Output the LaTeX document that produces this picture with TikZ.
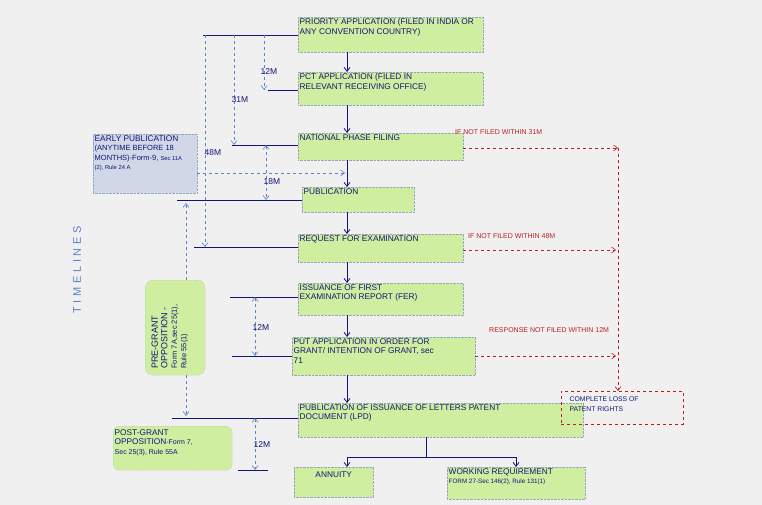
\documentclass[tikz,border=0pt]{standalone}
\usepackage{fontspec}
\setmainfont{Liberation Sans}
\usetikzlibrary{arrows.meta}
\definecolor{bg}{RGB}{240,240,240}
\definecolor{navy}{RGB}{20,20,120}
\definecolor{gfill}{RGB}{208,238,160}
\definecolor{gedge}{RGB}{150,165,185}
\definecolor{dblue}{RGB}{90,130,200}
\definecolor{dred}{RGB}{190,30,30}
\definecolor{efill}{RGB}{208,216,232}
\tikzset{
  gbox/.style={draw=gedge,densely dotted,line width=0.4pt,fill=gfill,inner sep=0pt,anchor=north west},
  txt/.style={text=navy,font=\fontsize{8.3}{9.3}\selectfont,align=left,inner sep=1.5pt,anchor=north west},
  tl/.style={navy,line width=0.8pt},
  flow/.style={navy,line width=0.8pt,-{Straight Barb[length=4pt,width=6pt]}},
  tm/.style={dblue,dashed,line width=0.6pt,-{Straight Barb[length=4pt,width=6pt]}},
  tm2/.style={dblue,dashed,line width=0.6pt,{Straight Barb[length=4pt,width=6pt]}-{Straight Barb[length=4pt,width=6pt]}},
  rda/.style={dred,dashed,line width=0.6pt,-{Straight Barb[length=4pt,width=6pt]}},
  rtxt/.style={text=dred,font=\fontsize{7}{8}\selectfont,inner sep=0pt,anchor=west},
  mlab/.style={text=navy,font=\fontsize{8.5}{9}\selectfont,inner sep=0pt},
}
\begin{document}
\begin{tikzpicture}[x=1pt,y=-1pt]
\fill[bg] (0,0) rectangle (762,505);
\useasboundingbox (0,0) rectangle (762,505);
% boxes
\node[gbox,minimum width=185,minimum height=35] (pri) at (298,17) {};
\node[txt] (pritxt) at (pri.north west) {PRIORITY APPLICATION (FILED IN INDIA OR\\ANY CONVENTION COUNTRY)};
\node[gbox,minimum width=185,minimum height=33] (pct) at (298,72) {};
\node[txt] (pcttxt) at (pct.north west) {PCT APPLICATION (FILED IN\\RELEVANT RECEIVING OFFICE)};
\node[gbox,minimum width=165,minimum height=27] (nat) at (298,133) {};
\node[txt] (nattxt) at (nat.north west) {NATIONAL PHASE FILING};
\node[gbox,minimum width=112,minimum height=25] (pub) at (302,187) {};
\node[txt] (pubtxt) at (pub.north west) {PUBLICATION};
\node[gbox,minimum width=165,minimum height=28] (req) at (298,234) {};
\node[txt] (reqtxt) at (req.north west) {REQUEST FOR EXAMINATION};
\node[gbox,minimum width=165,minimum height=32] (fer) at (298,283) {};
\node[txt] (fertxt) at (fer.north west) {ISSUANCE OF FIRST\\EXAMINATION REPORT (FER)};
\node[gbox,minimum width=183,minimum height=38] (put) at (292,337) {};
\node[txt] (puttxt) at (put.north west) {PUT APPLICATION IN ORDER FOR\\GRANT/ INTENTION OF GRANT, sec\\71};
\node[gbox,minimum width=285,minimum height=34] (lpd) at (298,403) {};
\node[txt] (lpdtxt) at (lpd.north west) {PUBLICATION OF ISSUANCE OF LETTERS PATENT\\DOCUMENT (LPD)};
\node[gbox,minimum width=79,minimum height=30] (ann) at (294,467) {};
\node[txt,anchor=north] (anntxt) at ([yshift=-3pt]ann.north) {ANNUITY};
\node[gbox,minimum width=138,minimum height=32] (work) at (447,467) {};
\node[txt] (worktxt) at (work.north west) {WORKING REQUIREMENT\\{\fontsize{6.3}{7}\selectfont FORM 27-Sec 146(2), Rule 131(1)}};
% early publication
\node[draw=gedge,densely dotted,fill=efill,inner sep=0pt,anchor=north west,minimum width=104,minimum height=59] (early) at (93,134) {};
\node[txt] (earlytxt) at (early.north west) {EARLY PUBLICATION\\{\fontsize{7.5}{8.5}\selectfont (ANYTIME BEFORE 18}\\{\fontsize{7.5}{8.5}\selectfont MONTHS)-Form-9, {\fontsize{5.8}{6}\selectfont Sec 11A}}\\{\fontsize{5.8}{7}\selectfont (2), Rule 24 A}};
% pre-grant
\node[draw=gedge,densely dotted,fill=gfill,rounded corners=8pt,inner sep=0pt,anchor=north west,minimum width=60,minimum height=95] (pre) at (145,280) {};
\node[txt,rotate=90,anchor=north west,align=left,font=\fontsize{9}{9.5}\selectfont] (pretxt) at ([xshift=5pt,yshift=5pt]pre.south west) {PRE-GRANT\\OPPOSITION -\\{\fontsize{7.5}{7.5}\selectfont Form 7A,sec 25(1),}\\{\fontsize{7.5}{7.5}\selectfont Rule 55(1)}};
% post-grant
\node[draw=gedge,densely dotted,fill=gfill,rounded corners=6pt,inner sep=0pt,anchor=north west,minimum width=119,minimum height=44] (post) at (113,426) {};
\node[txt] (posttxt) at ([yshift=-2pt]post.north west) {POST-GRANT\\OPPOSITION{\fontsize{7}{7.5}\selectfont -Form 7,}\\{\fontsize{7}{7.5}\selectfont Sec 25(3), Rule 55A}};
% complete loss
\node[draw=dred,dashed,inner sep=0pt,anchor=north west,minimum width=122,minimum height=33] (loss) at (561,391) {};
\node[txt,font=\fontsize{6.8}{10}\selectfont,anchor=north west] (losstxt) at ([xshift=7pt,yshift=-4pt]loss.north west) {COMPLETE LOSS OF\\PATENT RIGHTS};
% timelines
\node[text=dblue,rotate=90,font=\fontsize{11}{12}\selectfont,inner sep=0pt] (tl) at (77,270) {T\,\,I\,\,M\,\,E\,\,L\,\,I\,\,N\,\,E\,\,S};
% main flow
\draw[flow] (pri.south -| 347,0) -- (pct.north -| 347,0);
\draw[flow] (pct.south -| 347,0) -- (nat.north -| 347,0);
\draw[flow] (nat.south -| 347,0) -- (pub.north -| 347,0);
\draw[flow] (pub.south -| 347,0) -- (req.north -| 347,0);
\draw[flow] (req.south -| 347,0) -- (fer.north -| 347,0);
\draw[flow] (fer.south -| 347,0) -- (put.north -| 347,0);
\draw[flow] (put.south -| 347,0) -- (lpd.north -| 347,0);
\coordinate (br) at (426,457);
\draw[tl] (lpd.south -| br) -- (br);
\draw[flow] (br) -| (ann.north -| 347,0);
\draw[flow] (br) -| (work.north -| 516,0);
% timeline ticks
\coordinate (t1) at (203,35); \coordinate (t2) at (268,90); \coordinate (t3) at (232,145);
\coordinate (t4) at (177,200); \coordinate (t5) at (194,247); \coordinate (t6) at (230,297);
\coordinate (t7) at (232,356); \coordinate (t8) at (172,418); \coordinate (t9) at (238,470);
\coordinate (t9e) at (268,470);
\draw[tl] (t1) -- (t1 -| pri.west);
\draw[tl] (t2) -- (t2 -| pct.west);
\draw[tl] (t3) -- (t3 -| nat.west);
\draw[tl] (t4) -- (t4 -| pub.west);
\draw[tl] (t5) -- (t5 -| req.west);
\draw[tl] (t6) -- (t6 -| fer.west);
\draw[tl] (t7) -- (t7 -| put.west);
\draw[tl] (t8) -- (t8 -| lpd.west);
\draw[tl] (t9) -- (t9e);
% dashed timelines
\draw[tm] (205,35) -- (205,247);
\draw[tm] (234,35) -- (234,145);
\draw[tm] (264,35) -- (264,90);
\draw[tm2] (266,145) -- (266,200);
\draw[tm2] (255,297) -- (255,356);
\draw[tm2] (255,418) -- (255,470);
\draw[tm] (pre.north -| 186,0) -- (186,203);
\draw[tm] (pre.south -| 186,0) -- (186,416);
\draw[tm] (early.east |- 0,173) -- (345,173);
\node[mlab] (m12a) at (269,72) {12M};
\node[mlab] (m31) at (240,100) {31M};
\node[mlab] (m48) at (213,153) {48M};
\node[mlab] (m18) at (272,182) {18M};
\node[mlab] (m12b) at (261,328) {12M};
\node[mlab] (m12c) at (262,445) {12M};
% red
\coordinate (rv) at (618,148);
\draw[rda] (nat.east |- rv) -- (rv);
\draw[rda] (rv) -- (loss.north -| rv);
\draw[rda] (req.east |- 0,250) -- (616,250);
\draw[rda] (put.east |- 0,356) -- (616,356);
\node[rtxt] (r1) at (455,132) {IF NOT FILED WITHIN 31M};
\node[rtxt] (r2) at (468,236) {IF NOT FILED WITHIN 48M};
\node[rtxt] (r3) at (489,330) {RESPONSE NOT FILED WITHIN 12M};
\end{tikzpicture}
\end{document}
